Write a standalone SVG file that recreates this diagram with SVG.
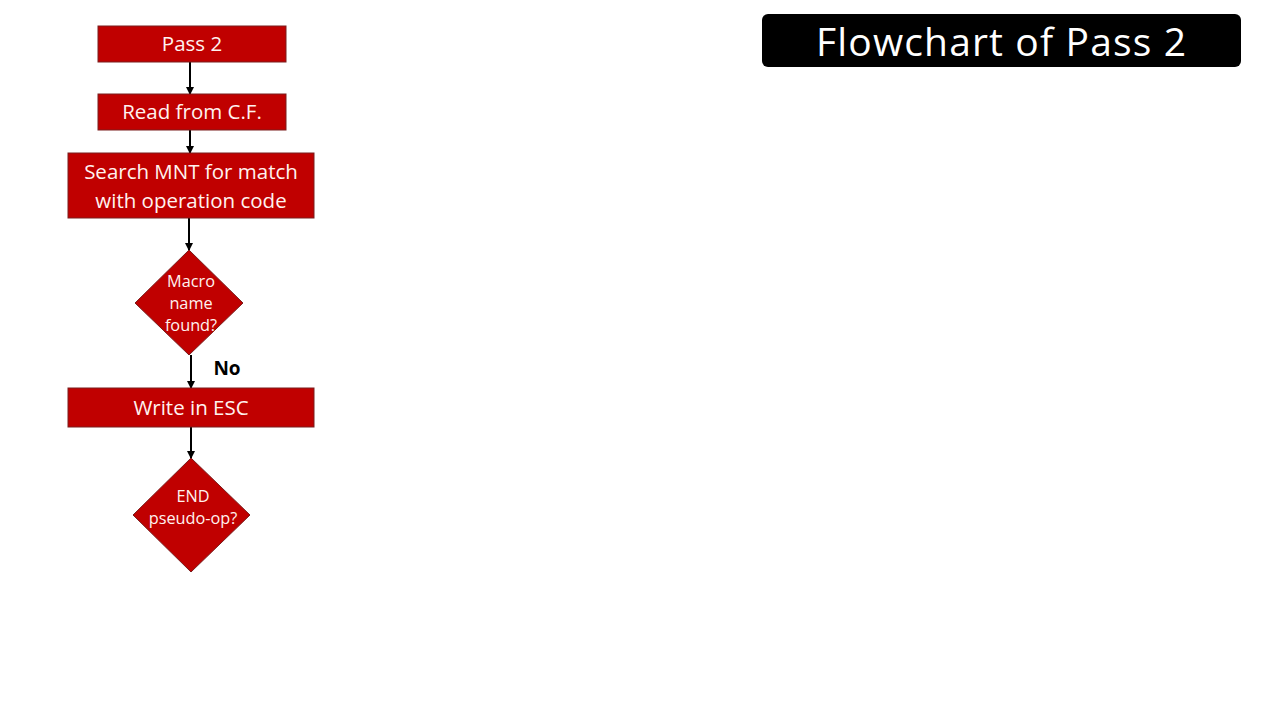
<svg xmlns="http://www.w3.org/2000/svg" width="1280" height="720" viewBox="0 0 1280 720">
<defs>
<marker id="ah" markerWidth="8" markerHeight="8" refX="7" refY="4" orient="auto" markerUnits="userSpaceOnUse">
<path d="M0,0 L8,4 L0,8 z" fill="#000"/>
</marker>
<style>
.box{fill:#C00000;stroke:#7a1e1e;stroke-width:1}
.t{font-family:"Open Sans","Liberation Sans",sans-serif;fill:#fff2ef;text-anchor:middle}
.bt{font-size:20.5px}
.dt{font-size:16.3px}
.c{stroke:#000;stroke-width:2;fill:none;marker-end:url(#ah)}
</style>
</defs>
<rect width="1280" height="720" fill="#fff"/>
<g id="title">
<rect x="762" y="14" width="479" height="53" rx="6" fill="#000"/>
<text x="1001" y="56" font-family="'Open Sans','Liberation Sans',sans-serif" font-size="39" fill="#fff" text-anchor="middle" textLength="370">Flowchart of Pass 2</text>
</g>
<g id="connectors">
<line class="c" x1="190" y1="62" x2="190" y2="94"/>
<line class="c" x1="190" y1="130" x2="190" y2="153"/>
<line class="c" x1="189" y1="218" x2="189" y2="250"/>
<line class="c" x1="191" y1="355" x2="191" y2="388"/>
<line class="c" x1="191" y1="427" x2="191" y2="458"/>
<text x="227" y="375" font-family="'Open Sans','Liberation Sans',sans-serif" font-size="19" font-weight="bold" fill="#000" text-anchor="middle">No</text>
</g>
<g id="pass2">
<rect class="box" x="98" y="26" width="188" height="36"/>
<text class="t bt" x="192" y="51">Pass 2</text>
</g>
<g id="read">
<rect class="box" x="98" y="94" width="188" height="36"/>
<text class="t bt" x="192" y="119">Read from C.F.</text>
</g>
<g id="search">
<rect class="box" x="68" y="153" width="246" height="65"/>
<text class="t bt" x="191" y="179">Search MNT for match</text>
<text class="t bt" x="191" y="208">with operation code</text>
</g>
<g id="macro">
<polygon class="box" points="189,250 243,303 189,355 135,303"/>
<text class="t dt" x="191" y="287">Macro</text>
<text class="t dt" x="191" y="309">name</text>
<text class="t dt" x="191" y="331">found?</text>
</g>
<g id="write">
<rect class="box" x="68" y="388" width="246" height="39"/>
<text class="t bt" x="191" y="415">Write in ESC</text>
</g>
<g id="end">
<polygon class="box" points="191,458 250,515 191,572 133,515"/>
<text class="t dt" x="193" y="502">END</text>
<text class="t dt" x="193" y="524">pseudo-op?</text>
</g>
</svg>
